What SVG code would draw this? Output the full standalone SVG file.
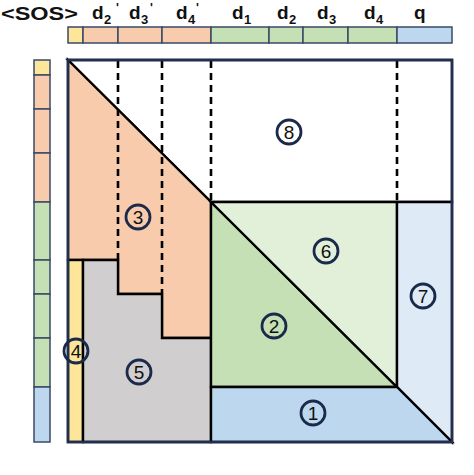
<svg xmlns="http://www.w3.org/2000/svg" width="474" height="475" viewBox="0 0 474 475">
<style>
.bar{stroke:#3a4966;stroke-width:1.5}
.y{fill:#FDE59A}.o{fill:#F8CBAD}.g{fill:#C5E0B4}.lg{fill:#E2F0D9}.b{fill:#BDD7EE}.lb{fill:#DEEBF7}.gr{fill:#D0CECE}.w{fill:#FFFFFF}
.reg{stroke:#000;stroke-width:2.4;stroke-linejoin:miter}
.dash{stroke:#000;stroke-width:2.6;stroke-dasharray:7 5;fill:none}
.lc{fill:none;stroke:#1b2a4a;stroke-width:2.8}
.ln{font-family:"Liberation Sans",Arial,sans-serif;font-size:19px;fill:#111;text-anchor:middle}
.hd{font-family:"Liberation Sans",Arial,sans-serif;font-weight:bold;font-size:19px;fill:#111}
.sb{font-family:"Liberation Sans",Arial,sans-serif;font-weight:bold;font-size:13px;fill:#111}
.pr{font-family:"Liberation Sans",Arial,sans-serif;font-weight:bold;font-size:12px;fill:#111}
</style>
<rect width="474" height="475" fill="#fff"/>
<g id="header">
<text class="hd" x="1" y="20" font-size="21" textLength="77" lengthAdjust="spacingAndGlyphs">&lt;SOS&gt;</text>
<text class="hd" x="92" y="19">d</text><text class="sb" x="104" y="24">2</text><text class="pr" x="116" y="12">'</text>
<text class="hd" x="129" y="19">d</text><text class="sb" x="141" y="24">3</text><text class="pr" x="150" y="12">'</text>
<text class="hd" x="176" y="19">d</text><text class="sb" x="188" y="24">4</text><text class="pr" x="196" y="12">'</text>
<text class="hd" x="232" y="19">d</text><text class="sb" x="244" y="24">1</text>
<text class="hd" x="277" y="19">d</text><text class="sb" x="289" y="24">2</text>
<text class="hd" x="317" y="19">d</text><text class="sb" x="329" y="24">3</text>
<text class="hd" x="364" y="19">d</text><text class="sb" x="376" y="24">4</text>
<text class="hd" x="414" y="19">q</text>
</g>
<g id="top-bar">
<rect class="bar y" x="68" y="27" width="15" height="16"/>
<rect class="bar o" x="83" y="27" width="35" height="16"/>
<rect class="bar o" x="118" y="27" width="44" height="16"/>
<rect class="bar o" x="162" y="27" width="49" height="16"/>
<rect class="bar g" x="211" y="27" width="58" height="16"/>
<rect class="bar g" x="269" y="27" width="34" height="16"/>
<rect class="bar g" x="303" y="27" width="45" height="16"/>
<rect class="bar g" x="348" y="27" width="49" height="16"/>
<rect class="bar b" x="397" y="27" width="55" height="16"/>
</g>
<g id="left-bar">
<rect class="bar y" x="34" y="60" width="16" height="15"/>
<rect class="bar o" x="34" y="75" width="16" height="34"/>
<rect class="bar o" x="34" y="109" width="16" height="44"/>
<rect class="bar o" x="34" y="153" width="16" height="49"/>
<rect class="bar g" x="34" y="202" width="16" height="58"/>
<rect class="bar g" x="34" y="260" width="16" height="34"/>
<rect class="bar g" x="34" y="294" width="16" height="44"/>
<rect class="bar g" x="34" y="338" width="16" height="49"/>
<rect class="bar b" x="34" y="387" width="16" height="55"/>
</g>
<g id="region-8"><polygon class="reg w" points="68,60 452,60 452,202 211,202"/></g>
<g id="region-3"><polygon class="reg o" points="68,60 211,202 211,338 162,338 162,294 118,294 118,260 68,260"/></g>
<g id="region-4"><rect class="reg y" x="68" y="260" width="15" height="182"/></g>
<g id="region-5"><polygon class="reg gr" points="83,260 118,260 118,294 162,294 162,338 211,338 211,442 83,442"/></g>
<g id="region-2"><polygon class="reg g" points="211,202 397,387 211,387"/></g>
<g id="region-6"><polygon class="reg lg" points="211,202 397,202 397,387"/></g>
<g id="region-7"><polygon class="reg lb" points="397,202 452,202 452,442 397,387"/></g>
<g id="region-1"><polygon class="reg b" points="211,387 397,387 452,442 211,442"/></g>
<g id="connectors">
<line class="dash" x1="118" y1="61" x2="118" y2="259"/>
<line class="dash" x1="162" y1="61" x2="162" y2="293"/>
<line class="dash" x1="211" y1="61" x2="211" y2="201"/>
<line class="dash" x1="397" y1="61" x2="397" y2="201"/>
</g>
<rect x="68" y="60" width="384" height="382" fill="none" stroke="#1f2f52" stroke-width="2.6"/>
<g id="label-8"><circle class="lc" cx="289" cy="132" r="12"/><text class="ln" x="289" y="139">8</text></g>
<g id="label-3"><circle class="lc" cx="138" cy="217" r="12"/><text class="ln" x="138" y="224">3</text></g>
<g id="label-6"><circle class="lc" cx="326" cy="251" r="12"/><text class="ln" x="326" y="258">6</text></g>
<g id="label-7"><circle class="lc" cx="423" cy="296" r="12"/><text class="ln" x="423" y="303">7</text></g>
<g id="label-2"><circle class="lc" cx="274" cy="326" r="12"/><text class="ln" x="274" y="333">2</text></g>
<g id="label-4"><circle class="lc" cx="76" cy="351" r="12"/><text class="ln" x="76" y="358">4</text></g>
<g id="label-5"><circle class="lc" cx="139" cy="372" r="12"/><text class="ln" x="139" y="379">5</text></g>
<g id="label-1"><circle class="lc" cx="313" cy="413" r="12"/><text class="ln" x="313" y="420">1</text></g>
</svg>
